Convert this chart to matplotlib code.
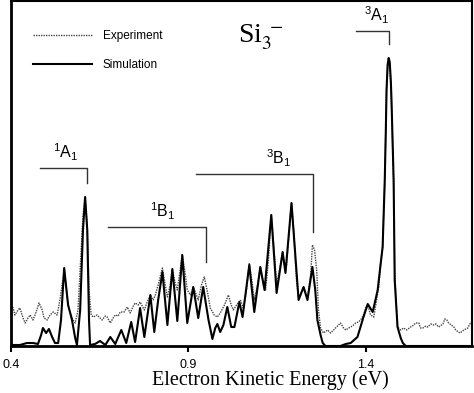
import matplotlib
matplotlib.use("Agg")
import matplotlib.pyplot as plt

plt.rcParams['font.family'] = ['Liberation Sans', 'DejaVu Sans']
plt.rcParams['mathtext.fontset'] = 'custom'
plt.rcParams['mathtext.rm'] = 'Liberation Sans'
plt.rcParams['mathtext.it'] = 'Liberation Sans'

# ---- data (energy in eV, intensity in arb. units) ----
sim_energy = [0.400, 0.425, 0.445, 0.462, 0.476, 0.485, 0.490, 0.499, 0.507, 0.516, 0.524, 0.533,
              0.541, 0.550, 0.555, 0.561, 0.567, 0.572, 0.581, 0.586, 0.595, 0.603, 0.609, 0.615,
              0.620, 0.623, 0.637, 0.651, 0.666, 0.680, 0.694, 0.711, 0.725, 0.739, 0.750, 0.764,
              0.776, 0.793, 0.804, 0.815, 0.827, 0.841, 0.855, 0.869, 0.883, 0.897, 0.914, 0.928,
              0.942, 0.957, 0.968, 0.976, 0.982, 0.990, 0.999, 1.010, 1.021, 1.030, 1.044, 1.053,
              1.072, 1.086, 1.103, 1.115, 1.134, 1.149, 1.166, 1.174, 1.191, 1.211, 1.225, 1.236,
              1.250, 1.258, 1.264, 1.273, 1.279, 1.287, 1.329, 1.344, 1.358, 1.377, 1.394, 1.406,
              1.420, 1.434, 1.442, 1.448, 1.454, 1.457, 1.459, 1.462, 1.465, 1.468, 1.471, 1.473,
              1.476, 1.479, 1.482, 1.490, 1.499, 1.505, 1.513, 1.700]
sim_intensity = [1, 1, 3, 3, 2, 11, 18, 13, 17, 9, 3, 3,
                 26, 78, 61, 41, 33, 26, 8, 1, 36, 116, 149, 116,
                 26, 1, 2, 5, 1, 9, 2, 16, 3, 24, 4, 38,
                 9, 51, 14, 46, 74, 21, 77, 25, 91, 23, 59, 28,
                 59, 26, 7, 18, 22, 14, 21, 39, 19, 19, 44, 29,
                 81, 34, 79, 56, 131, 53, 94, 73, 143, 46, 59, 46,
                 79, 56, 26, 11, 3, 0, 0, 2, 3, 9, 29, 42,
                 34, 56, 81, 99, 166, 216, 256, 281, 288, 284, 266, 246,
                 206, 166, 66, 19, 8, 3, 0, 0]

exp_energy = [0.400, 0.406, 0.411, 0.420, 0.425, 0.434, 0.440, 0.448, 0.454, 0.462, 0.471, 0.479,
              0.488, 0.493, 0.502, 0.510, 0.519, 0.530, 0.538, 0.544, 0.550, 0.555, 0.561, 0.567,
              0.575, 0.581, 0.589, 0.598, 0.603, 0.609, 0.615, 0.620, 0.626, 0.632, 0.643, 0.651,
              0.657, 0.666, 0.671, 0.680, 0.688, 0.694, 0.702, 0.708, 0.719, 0.728, 0.736, 0.745,
              0.750, 0.759, 0.764, 0.776, 0.784, 0.793, 0.801, 0.807, 0.815, 0.827, 0.835, 0.841,
              0.849, 0.855, 0.863, 0.869, 0.877, 0.883, 0.892, 0.897, 0.906, 0.914, 0.923, 0.928,
              0.937, 0.945, 0.954, 0.962, 0.973, 0.982, 0.990, 1.002, 1.013, 1.021, 1.027, 1.036,
              1.047, 1.055, 1.064, 1.072, 1.081, 1.086, 1.095, 1.103, 1.112, 1.118, 1.126, 1.134,
              1.143, 1.149, 1.157, 1.166, 1.171, 1.177, 1.185, 1.191, 1.197, 1.205, 1.211, 1.216,
              1.225, 1.231, 1.236, 1.245, 1.250, 1.256, 1.262, 1.267, 1.273, 1.281, 1.293, 1.301,
              1.310, 1.315, 1.324, 1.329, 1.338, 1.344, 1.352, 1.358, 1.366, 1.372, 1.380, 1.386,
              1.394, 1.400, 1.406, 1.414, 1.423, 1.431, 1.437, 1.442, 1.448, 1.454, 1.457, 1.459,
              1.462, 1.465, 1.468, 1.471, 1.473, 1.476, 1.479, 1.482, 1.488, 1.490, 1.499, 1.507,
              1.516, 1.527, 1.536, 1.541, 1.550, 1.555, 1.561, 1.570, 1.575, 1.584, 1.592, 1.598,
              1.606, 1.618, 1.623, 1.629, 1.634, 1.649, 1.654, 1.666, 1.677, 1.688, 1.697]
exp_intensity = [41, 38, 31, 36, 38, 28, 23, 28, 31, 26, 34, 43,
                 36, 28, 26, 31, 34, 31, 46, 61, 76, 61, 41, 33,
                 26, 23, 36, 96, 131, 148, 121, 56, 31, 29, 31, 28,
                 26, 30, 29, 23, 28, 31, 30, 34, 34, 39, 33, 40,
                 43, 41, 44, 36, 44, 51, 46, 51, 61, 78, 61, 49,
                 61, 76, 63, 56, 76, 91, 71, 56, 51, 59, 51, 46,
                 61, 69, 54, 38, 31, 29, 33, 41, 51, 41, 36, 41,
                 46, 38, 56, 83, 61, 46, 61, 79, 61, 56, 86, 131,
                 91, 61, 76, 94, 81, 81, 116, 143, 116, 66, 48, 51,
                 59, 53, 48, 71, 101, 96, 76, 36, 18, 13, 16, 13,
                 16, 18, 21, 23, 18, 16, 18, 19, 21, 23, 24, 26,
                 31, 38, 41, 31, 29, 46, 59, 81, 99, 166, 216, 254,
                 276, 284, 280, 261, 241, 201, 161, 76, 31, 19, 16, 18,
                 16, 19, 21, 23, 23, 18, 18, 20, 19, 22, 21, 22,
                 19, 22, 27, 26, 23, 19, 16, 13, 16, 18, 24]

state_labels = [r"$^{1}$A$_{1}$", r"$^{1}$B$_{1}$", r"$^{3}$B$_{1}$", r"$^{3}$A$_{1}$"]
state_origin = [0.615, 0.951, 1.253, 1.465]      # eV, where the bracket drops
state_start = [0.482, 0.674, 0.923, 1.372]       # eV, left end of bracket
state_label_x = [0.555, 0.829, 1.154, 1.431]     # eV, label centre
state_level = [178, 119, 172, 315]               # bracket height
state_drop = [163, 84, 114, 302]                 # lower end of the vertical line

xticks = [0.4, 0.9, 1.4]
xtick_labels = ["0.4", "0.9", "1.4"]

fig = plt.figure(figsize=(4.74, 3.93), dpi=100)
ax = fig.add_axes([11 / 474, 47 / 393, 461 / 474, 345 / 393])

ax.plot(exp_energy, exp_intensity, color='#444444', lw=1.0, linestyle=(0, (1, 0.8)),
        label='Experiment', zorder=2)
ax.plot(sim_energy, sim_intensity, color='black', lw=1.5, label='Simulation', zorder=3)

for lab, x0, x1, lx, lev, drop in zip(state_labels, state_start, state_origin, state_label_x,
                                      state_level, state_drop):
    ax.plot([x0, x1, x1], [lev, lev, drop], color='#333333', lw=1.0, zorder=4)
    ax.text(lx, lev + 5, lab, ha='center', va='bottom', fontsize=11.5)

ax.text(1.041, 303, r"Si$_3^{\,\,-}$", fontsize=20, family='Liberation Serif',
        ha='left', va='baseline', math_fontfamily='stix')

ax.set_xlim(0.4, 1.7)
ax.set_ylim(0, 345)
ax.set_yticks([])
ax.set_xticks(xticks)
ax.set_xticklabels(xtick_labels, fontsize=9)
ax.tick_params(axis='x', direction='out', length=4, width=1.5, pad=5)
for s in ['left', 'bottom']:
    ax.spines[s].set_linewidth(2)
for s in ['top', 'right']:
    ax.spines[s].set_linewidth(1.5)

ax.set_xlabel("Electron Kinetic Energy (eV)", family='Liberation Serif', fontsize=14.5, labelpad=0)
ax.xaxis.label.set_x(0.562)

leg = ax.legend(loc='upper left', bbox_to_anchor=(0.048, 0.915), frameon=False, fontsize=8.5,
                handlelength=5.0, handletextpad=0.9, labelspacing=1.45, borderaxespad=0, borderpad=0)

fig.savefig("out.png", dpi=100)
